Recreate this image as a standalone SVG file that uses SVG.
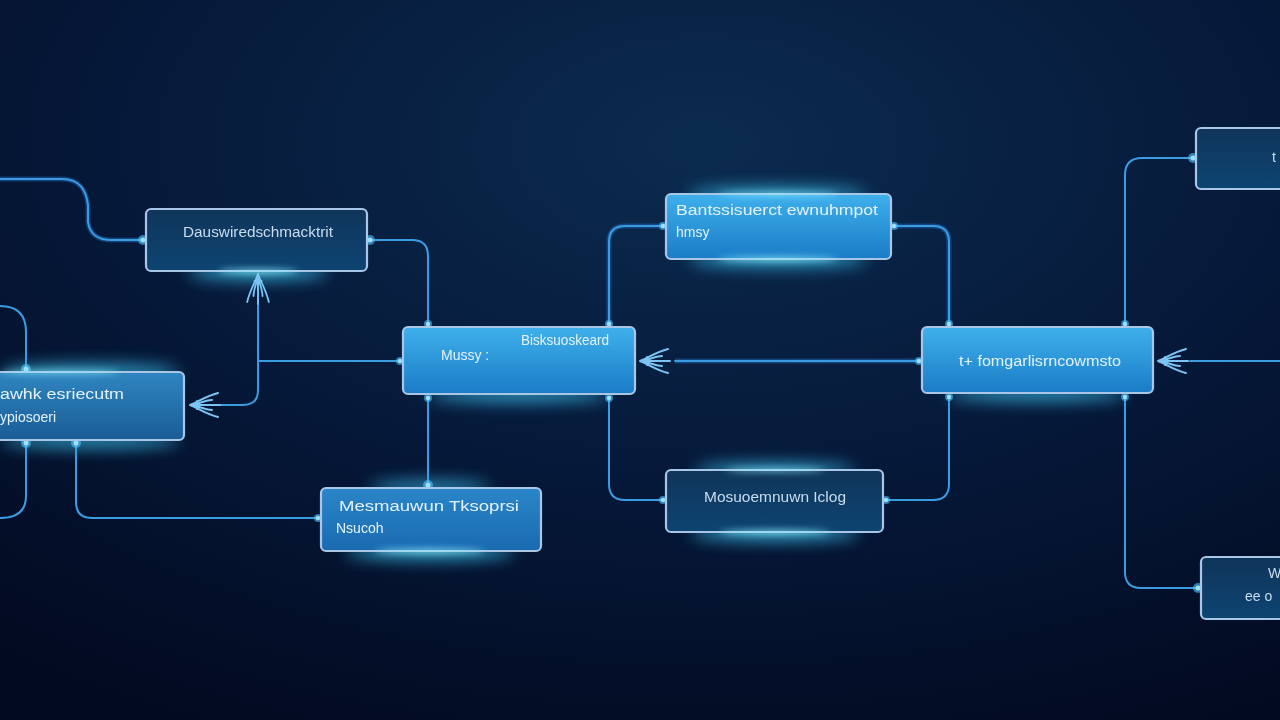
<svg xmlns="http://www.w3.org/2000/svg" width="1280" height="720" viewBox="0 0 1280 720">
<defs>
  <radialGradient id="bg" cx="0.55" cy="0.2" r="0.9">
    <stop offset="0" stop-color="#0b2b4e"/>
    <stop offset="0.5" stop-color="#06193a"/>
    <stop offset="1" stop-color="#020a20"/>
  </radialGradient>
  <linearGradient id="bright" x1="0" y1="0" x2="0" y2="1">
    <stop offset="0" stop-color="#3fb0ec"/>
    <stop offset="1" stop-color="#1a7cc6"/>
  </linearGradient>
  <linearGradient id="mid" x1="0" y1="0" x2="0" y2="1">
    <stop offset="0" stop-color="#2a86c8"/>
    <stop offset="1" stop-color="#1a6ab0"/>
  </linearGradient>
  <linearGradient id="dark" x1="0" y1="0" x2="0" y2="1">
    <stop offset="0" stop-color="#10355a"/>
    <stop offset="1" stop-color="#0d4472"/>
  </linearGradient>
  <linearGradient id="leftn" x1="0" y1="0" x2="0" y2="1">
    <stop offset="0" stop-color="#2f86c0"/>
    <stop offset="1" stop-color="#1a5c96"/>
  </linearGradient>
  <filter id="blur" x="-50%" y="-200%" width="200%" height="500%">
    <feGaussianBlur stdDeviation="8"/>
  </filter>
  <filter id="blur2" x="-50%" y="-300%" width="200%" height="700%">
    <feGaussianBlur stdDeviation="3"/>
  </filter>
  <filter id="soft" x="-20%" y="-20%" width="140%" height="140%">
    <feGaussianBlur stdDeviation="0.6"/>
  </filter>
  <g id="fork">
    <path d="M0,0 C8,-3 16,-9 28,-12 M0,0 C8,3 16,9 28,12 M3,0 C10,-2 16,-5 22,-5 M3,0 C10,2 16,5 22,5 M7,-4 L7,4 M0,0 H30"/>
  </g>
  <style>
    .bg{fill:url(#bg)}
    .conn path{fill:none;stroke:#3b9ce2;stroke-width:2;stroke-linecap:round}
    .halo path{fill:none;stroke:#1e6fc0;stroke-width:5;opacity:0.45}
    .arrow use{fill:none;stroke:#7cc4f4;stroke-width:2;stroke-linecap:round}
    .dot{fill:#9fe0ff}
    .dotglow{fill:#4cc4ff;opacity:0.6}
    .box{stroke:#a9c6e6;stroke-width:2.2}
    .b-bright{fill:url(#bright)}
    .b-mid{fill:url(#mid)}
    .b-dark{fill:url(#dark)}
    .b-left{fill:url(#leftn)}
    .glow{fill:#3fd0ff;filter:url(#blur);opacity:0.7}
    .glow2{fill:#8ff0ff;filter:url(#blur2);opacity:0.8}
    .t{font-family:"Liberation Sans",Arial,sans-serif;font-size:14px;fill:#e4f2ff;filter:url(#soft)}
    .td{fill:#c8dcef}
  </style>
</defs>
<rect class="bg" x="0" y="0" width="1280" height="720"/>

<g id="glows">
  <ellipse class="glow" cx="258" cy="272" rx="70" ry="8"/>
  <ellipse class="glow" cx="778" cy="194" rx="90" ry="7"/>
  <ellipse class="glow" cx="778" cy="259" rx="90" ry="8"/>
  <ellipse class="glow" cx="518" cy="395" rx="90" ry="7"/>
  <ellipse class="glow" cx="1037" cy="394" rx="90" ry="7"/>
  <ellipse class="glow" cx="430" cy="552" rx="85" ry="8"/>
  <ellipse class="glow" cx="430" cy="487" rx="60" ry="6"/>
  <ellipse class="glow" cx="775" cy="470" rx="80" ry="7"/>
  <ellipse class="glow" cx="775" cy="533" rx="85" ry="8"/>
  <ellipse class="glow" cx="90" cy="372" rx="90" ry="8"/>
  <ellipse class="glow" cx="90" cy="441" rx="90" ry="7"/>
</g>

<g id="connectors">
  <g class="halo">
    <path d="M0,179 H62 C80,179 86,190 88,205 V222 C90,235 98,240 112,240 H143"/>
    <path d="M609,327 V242 Q609,226 625,226 H666"/>
    <path d="M891,226 H933 Q949,226 949,242 V327"/>
    <path d="M675,361 H922"/>
  </g>
  <g class="conn">
    <path d="M0,179 H62 C80,179 86,190 88,205 V222 C90,235 98,240 112,240 H143"/>
    <path d="M370,240 H412 Q428,240 428,256 V324"/>
    <path d="M400,361 H258"/>
    <path d="M258,280 V390 Q258,405 243,405 H200"/>
    <path d="M609,324 V242 Q609,226 625,226 H663"/>
    <path d="M894,226 H933 Q949,226 949,242 V324"/>
    <path d="M675,361 H919"/>
    <path d="M609,397 V484 Q609,500 625,500 H663"/>
    <path d="M886,500 H933 Q949,500 949,484 V396"/>
    <path d="M428,397 V485"/>
    <path d="M76,443 V502 Q76,518 92,518 H318"/>
    <path d="M26,369 V332 Q26,306 0,306"/>
    <path d="M26,443 V496 Q26,518 0,518"/>
    <path d="M1125,324 V175 Q1125,158 1142,158 H1193"/>
    <path d="M1190,361 H1280"/>
    <path d="M1125,396 V572 Q1125,588 1141,588 H1198"/>
  </g>
  <g class="arrow">
    <use href="#fork" transform="translate(640,361)"/>
    <use href="#fork" transform="translate(1158,361)"/>
    <use href="#fork" transform="translate(190,405)"/>
    <use href="#fork" transform="translate(258,274) rotate(90) scale(1,0.9)"/>
  </g>
  <g id="dots">
    <circle class="dotglow" cx="143" cy="240" r="5"/><circle class="dot" cx="143" cy="240" r="2.5"/>
    <circle class="dotglow" cx="370" cy="240" r="5"/><circle class="dot" cx="370" cy="240" r="2.5"/>
    <circle class="dotglow" cx="428" cy="324" r="4"/><circle class="dot" cx="428" cy="324" r="2.2"/>
    <circle class="dotglow" cx="609" cy="324" r="4"/><circle class="dot" cx="609" cy="324" r="2.2"/>
    <circle class="dotglow" cx="663" cy="226" r="4"/><circle class="dot" cx="663" cy="226" r="2.2"/>
    <circle class="dotglow" cx="894" cy="226" r="4"/><circle class="dot" cx="894" cy="226" r="2.2"/>
    <circle class="dotglow" cx="949" cy="324" r="4"/><circle class="dot" cx="949" cy="324" r="2.2"/>
    <circle class="dotglow" cx="1125" cy="324" r="4"/><circle class="dot" cx="1125" cy="324" r="2.2"/>
    <circle class="dotglow" cx="919" cy="361" r="4"/><circle class="dot" cx="919" cy="361" r="2.2"/>
    <circle class="dotglow" cx="400" cy="361" r="4"/><circle class="dot" cx="400" cy="361" r="2.2"/>
    <circle class="dotglow" cx="428" cy="398" r="4"/><circle class="dot" cx="428" cy="398" r="2.2"/>
    <circle class="dotglow" cx="609" cy="398" r="4"/><circle class="dot" cx="609" cy="398" r="2.2"/>
    <circle class="dotglow" cx="949" cy="397" r="4"/><circle class="dot" cx="949" cy="397" r="2.2"/>
    <circle class="dotglow" cx="1125" cy="397" r="4"/><circle class="dot" cx="1125" cy="397" r="2.2"/>
    <circle class="dotglow" cx="663" cy="500" r="4"/><circle class="dot" cx="663" cy="500" r="2.2"/>
    <circle class="dotglow" cx="886" cy="500" r="4"/><circle class="dot" cx="886" cy="500" r="2.2"/>
    <circle class="dotglow" cx="428" cy="485" r="5"/><circle class="dot" cx="428" cy="485" r="2.5"/>
    <circle class="dotglow" cx="318" cy="518" r="4"/><circle class="dot" cx="318" cy="518" r="2.2"/>
    <circle class="dotglow" cx="26" cy="369" r="5"/><circle class="dot" cx="26" cy="369" r="2.5"/>
    <circle class="dotglow" cx="26" cy="443" r="5"/><circle class="dot" cx="26" cy="443" r="2.5"/>
    <circle class="dotglow" cx="76" cy="443" r="5"/><circle class="dot" cx="76" cy="443" r="2.5"/>
    <circle class="dotglow" cx="1193" cy="158" r="5"/><circle class="dot" cx="1193" cy="158" r="2.5"/>
    <circle class="dotglow" cx="1198" cy="588" r="5"/><circle class="dot" cx="1198" cy="588" r="2.5"/>
  </g>
</g>

<g id="node-a">
  <rect class="box b-dark" x="146" y="209" width="221" height="62" rx="5"/>
  <text class="t td" x="258" y="237" text-anchor="middle" textLength="150" lengthAdjust="spacingAndGlyphs">Dauswiredschmacktrit</text>
</g>
<g id="node-b">
  <rect class="box b-bright" x="666" y="194" width="225" height="65" rx="5"/>
  <text class="t" x="676" y="215" textLength="202" lengthAdjust="spacingAndGlyphs">Bantssisuerct  ewnuhmpot</text>
  <text class="t" x="676" y="237">hmsy</text>
</g>
<g id="node-c">
  <rect class="box b-bright" x="403" y="327" width="232" height="67" rx="5"/>
  <text class="t" x="521" y="345" textLength="88" lengthAdjust="spacingAndGlyphs">Bisksuoskeard</text>
  <text class="t" x="441" y="360">Mussy :</text>
</g>
<g id="node-d">
  <rect class="box b-bright" x="922" y="327" width="231" height="66" rx="5"/>
  <text class="t" x="1040" y="366" text-anchor="middle" textLength="162" lengthAdjust="spacingAndGlyphs">t+ fomgarlisrncowmsto</text>
</g>
<g id="node-e">
  <rect class="box b-left" x="-10" y="372" width="194" height="68" rx="5"/>
  <text class="t" x="0" y="399" textLength="124" lengthAdjust="spacingAndGlyphs">awhk  esriecutm</text>
  <text class="t" x="0" y="422">ypiosoeri</text>
</g>
<g id="node-f">
  <rect class="box b-mid" x="321" y="488" width="220" height="63" rx="5"/>
  <text class="t" x="339" y="511" textLength="180" lengthAdjust="spacingAndGlyphs">Mesmauwun  Tksoprsi</text>
  <text class="t" x="336" y="533">Nsucoh</text>
</g>
<g id="node-g">
  <rect class="box b-dark" x="666" y="470" width="217" height="62" rx="5"/>
  <text class="t td" x="775" y="502" text-anchor="middle" textLength="142" lengthAdjust="spacingAndGlyphs">Mosuoemnuwn Iclog</text>
</g>
<g id="node-h">
  <rect class="box b-dark" x="1196" y="128" width="100" height="61" rx="5"/>
  <text class="t td" x="1272" y="162">t</text>
</g>
<g id="node-i">
  <rect class="box b-dark" x="1201" y="557" width="100" height="62" rx="5"/>
  <text class="t td" x="1268" y="578">W</text>
  <text class="t td" x="1245" y="601">ee o</text>
</g>

<g id="edge-glows">
  <ellipse class="glow2" cx="258" cy="271" rx="40" ry="2.5"/>
  <ellipse class="glow2" cx="778" cy="194" rx="60" ry="2"/>
  <ellipse class="glow2" cx="778" cy="259" rx="60" ry="2.5"/>
  <ellipse class="glow2" cx="430" cy="551" rx="55" ry="2.5"/>
  <ellipse class="glow2" cx="775" cy="470" rx="50" ry="2"/>
  <ellipse class="glow2" cx="775" cy="532" rx="55" ry="2.5"/>
  <ellipse class="glow2" cx="60" cy="372" rx="60" ry="2"/>
</g>
</svg>
